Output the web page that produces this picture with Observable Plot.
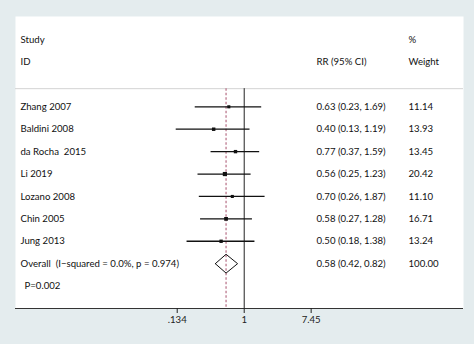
<!DOCTYPE html>
<html><head><meta charset="utf-8">
<script src="https://cdn.jsdelivr.net/npm/d3@7"></script>
<script src="https://cdn.jsdelivr.net/npm/@observablehq/plot@0.6"></script>
<style>html,body{margin:0;padding:0;background:#e4ecee;overflow:hidden}</style>
</head><body><div id="chart"></div>
<script>
const studies = ["Zhang 2007","Baldini 2008","da Rocha  2015","Li 2019","Lozano 2008","Chin 2005","Jung 2013"];
const rr     = [0.63, 0.40, 0.77, 0.56, 0.70, 0.58, 0.50];
const lower  = [0.23, 0.13, 0.37, 0.25, 0.26, 0.27, 0.18];
const upper  = [1.69, 1.19, 1.59, 1.23, 1.87, 1.28, 1.38];
const weight = [11.14, 13.93, 13.45, 20.42, 11.10, 16.71, 13.24];
const overallLabel = "Overall  (I\u2212squared = 0.0%, p = 0.974)";
const overallRR = 0.58, overallLo = 0.42, overallHi = 0.82, overallW = 100.00;
const pText = "P=0.002";
const tickValues = [0.134, 1, 7.45];
const tickLabels = [".134", "1", "7.45"];

const fmt = v => v.toFixed(2);
const firstRow = 3;
const rows = studies.map((s, i) => ({
  label: s, rr: rr[i], lo: lower[i], hi: upper[i], w: weight[i], row: firstRow + i,
  ci: `${fmt(rr[i])} (${fmt(lower[i])}, ${fmt(upper[i])})`, wt: fmt(weight[i])
}));
const overallRow = firstRow + studies.length;
const pRow = overallRow + 1;
const axisRow = pRow + 1;
const sepRow = 2.19;
const dh = 0.42;
const diamond = [
  {x: overallLo, y: overallRow}, {x: overallRR, y: overallRow - dh},
  {x: overallHi, y: overallRow}, {x: overallRR, y: overallRow + dh},
  {x: overallLo, y: overallRow}
];
const overallRows = [{label: overallLabel, row: overallRow,
  ci: `${fmt(overallRR)} (${fmt(overallLo)}, ${fmt(overallHi)})`, wt: fmt(overallW)}];
const headLeft = [{t: "Study", row: 0}, {t: "ID", row: 1}];
const headMid = [{t: "RR (95% CI)", row: 1}];
const headRight = [{t: "%", row: 0}, {t: "Weight", row: 1}];
const ticks = tickValues.map((v, i) => ({v, label: tickLabels[i]}));

const chart = Plot.plot({
  width: 474, height: 344,
  marginLeft: 15, marginRight: 11, marginTop: 16, marginBottom: 36,
  style: {fontFamily: "Lato, 'Open Sans', sans-serif", fontSize: "9.6px", background: "#e4ecee", color: "#111"},
  x: {type: "log", domain: [0.001047, 720]},
  y: {domain: [-1.03, axisRow], reverse: true, axis: null},
  r: {type: "sqrt", domain: [0, 25], range: [0, 2.6]},
  marks: [
    Plot.frame({fill: "white", stroke: "none"}),
    Plot.ruleY([sepRow], {stroke: "#d4d4d4", strokeWidth: 1}),
    Plot.ruleX([1], {y1: sepRow, y2: axisRow, stroke: "#222", strokeWidth: 1}),
    Plot.ruleX([overallRR], {y1: sepRow, y2: axisRow, stroke: "#b0607a", strokeWidth: 1.1, strokeDasharray: "2.5,2"}),
    Plot.ruleY(rows, {y: "row", x1: "lo", x2: "hi", stroke: "#111", strokeWidth: 1.3}),
    Plot.dot(rows, {x: "rr", y: "row", r: "w", symbol: "square", fill: "#111", stroke: "none"}),
    Plot.line(diamond, {x: "x", y: "y", stroke: "#111", strokeWidth: 1, fill: "none"}),
    Plot.text(rows, {y: "row", text: "label", frameAnchor: "left", dx: 5, textAnchor: "start"}),
    Plot.text(rows, {y: "row", text: "ci", frameAnchor: "left", dx: 301, textAnchor: "start"}),
    Plot.text(rows, {y: "row", text: "wt", frameAnchor: "left", dx: 393, textAnchor: "start"}),
    Plot.text(overallRows, {y: "row", text: "label", frameAnchor: "left", dx: 5, textAnchor: "start"}),
    Plot.text(overallRows, {y: "row", text: "ci", frameAnchor: "left", dx: 301, textAnchor: "start"}),
    Plot.text(overallRows, {y: "row", text: "wt", frameAnchor: "left", dx: 393, textAnchor: "start"}),
    Plot.text([pText], {y: pRow, text: d => d, frameAnchor: "left", dx: 9, textAnchor: "start"}),
    Plot.text(headLeft, {y: "row", text: "t", frameAnchor: "left", dx: 5, textAnchor: "start"}),
    Plot.text(headMid, {y: "row", text: "t", frameAnchor: "left", dx: 301, textAnchor: "start"}),
    Plot.text(headRight, {y: "row", text: "t", frameAnchor: "left", dx: 393, textAnchor: "start"}),
    Plot.ruleY([axisRow], {stroke: "#333", strokeWidth: 1}),
    Plot.axisX({ticks: tickValues, tickFormat: () => "", tickSize: 5, anchor: "bottom", color: "#222"}),
    Plot.text(ticks, {x: "v", text: "label", frameAnchor: "bottom", lineAnchor: "middle", dy: 11, fill: "#222"})
  ]
});
document.getElementById("chart").appendChild(chart);
</script>
</body></html>
